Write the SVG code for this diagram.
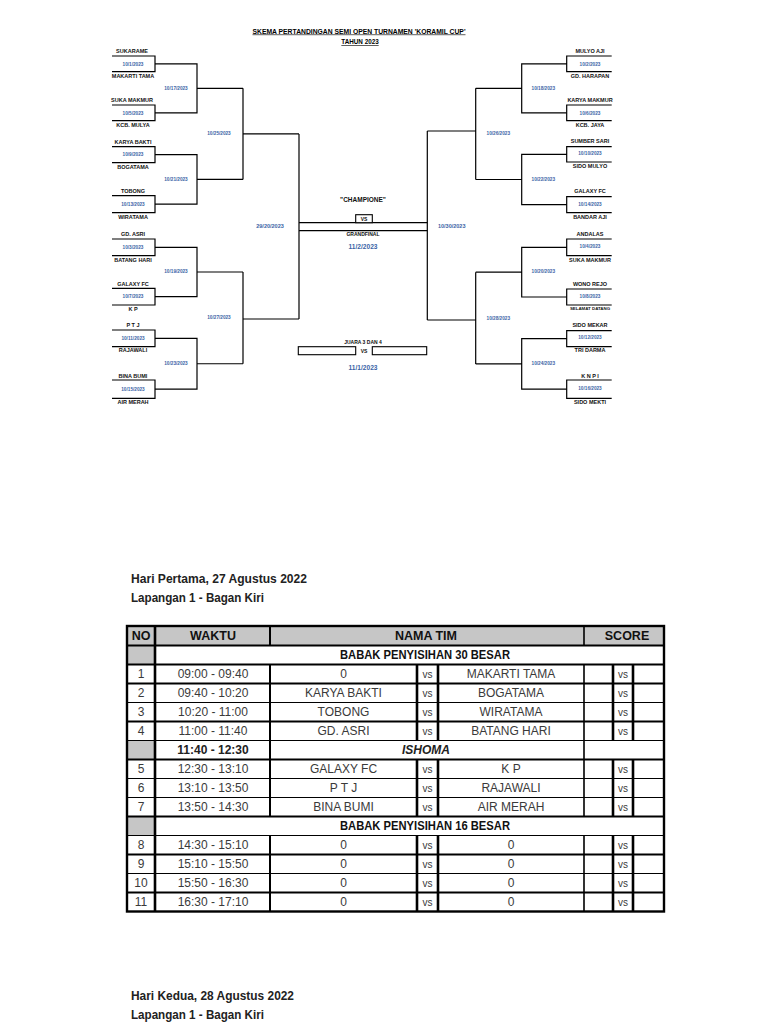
<svg xmlns="http://www.w3.org/2000/svg" width="768" height="1024" viewBox="0 0 768 1024">
<style>
text{font-family:"Liberation Sans",Arial,sans-serif;}
.bg{fill:#ffffff;}
.ln{fill:none;stroke:#000;stroke-width:1.2;}
.tm{font-size:5.5px;font-weight:bold;fill:#111;text-anchor:middle;}
.dt{font-size:4.7px;font-weight:bold;fill:#3b64a6;text-anchor:middle;}
.dt2{font-size:5.5px;font-weight:bold;fill:#3b64a6;text-anchor:middle;}
.ttl{font-size:6.3px;font-weight:bold;fill:#000;text-anchor:middle;text-decoration:underline;}
.h{font-size:13px;font-weight:bold;fill:#222;}
.th{font-size:12.5px;font-weight:bold;fill:#111;text-anchor:middle;}
.td{font-size:12px;fill:#3a3a3a;text-anchor:middle;}
.tb{font-size:12px;font-weight:bold;fill:#222;text-anchor:middle;}
.vs{font-size:10px;fill:#3a3a3a;text-anchor:middle;}
.grey{fill:#c6c6c6;}
.thin{stroke:#000;stroke-width:1.2;}
.thick{stroke:#000;stroke-width:2.2;}
</style>
<rect class="bg" x="0" y="0" width="768" height="1024"/>

<g id="title">
<text class="ttl" x="359" y="33.5" textLength="213" lengthAdjust="spacingAndGlyphs">SKEMA PERTANDINGAN SEMI OPEN TURNAMEN 'KORAMIL CUP'</text>
<text class="ttl" x="360" y="44">TAHUN 2023</text>
</g>

<g id="connectors">
<path class="ln" d="M112,56H155V71.7H112M155,63.85H197V112.85H155M197,88.35H243"/>
<path class="ln" d="M112,105H155V120.7H112"/>
<path class="ln" d="M112,146.7H155V162.7H112M155,154.7H197V204.2H155M197,179.45H243"/>
<path class="ln" d="M112,195.7H155V212.7H112"/>
<path class="ln" d="M112,239H155V255.7H112M155,247.35H197V296.65H155M197,272H243"/>
<path class="ln" d="M112,288.3H155V305H112"/>
<path class="ln" d="M112,330H155V346.7H112M155,338.35H197V389.15H155M197,363.75H243"/>
<path class="ln" d="M112,380H155V398.3H112"/>
<path class="ln" d="M243,88.35V179.45M243,133.9H299M243,272V363.75M243,319H299M299,133.9V319"/>
<path class="ln" d="M611.7,56H566.7V71.7H611.7M566.7,63.85H521.7V112.85H566.7M521.7,88.35H475.7"/>
<path class="ln" d="M611.7,105H566.7V120.7H611.7"/>
<path class="ln" d="M611.7,146.7H566.7V162H611.7M566.7,154.3H521.7V204.7H566.7M521.7,179.5H475.7"/>
<path class="ln" d="M611.7,196.7H566.7V212.7H611.7"/>
<path class="ln" d="M611.7,239H566.7V255.7H611.7M566.7,247.35H521.7V297H566.7M521.7,272.2H475.7"/>
<path class="ln" d="M611.7,289H566.7V305H611.7"/>
<path class="ln" d="M611.7,330.7H566.7V346.7H611.7M566.7,338.7H521.7V389.15H566.7M521.7,363.9H475.7"/>
<path class="ln" d="M611.7,380H566.7V398.3H611.7"/>
<path class="ln" d="M475.7,88.35V179.5M475.7,131H427.3M475.7,272.2V363.9M475.7,320H427.3M427.3,131V320"/>
<path class="ln" d="M299,222.7H427.3M299,230.7H427.3"/>
</g>

<g id="left-teams">
<text class="tm" x="132" y="53">SUKARAME</text>
<text class="dt" x="133" y="65.5">10/1/2023</text>
<text class="tm" x="133" y="78">MAKARTI TAMA</text>
<text class="tm" x="132" y="102">SUKA MAKMUR</text>
<text class="dt" x="133" y="114.5">10/5/2023</text>
<text class="tm" x="133" y="127">KCB. MULYA</text>
<text class="tm" x="133" y="143.7">KARYA BAKTI</text>
<text class="dt" x="133" y="156.4">10/9/2023</text>
<text class="tm" x="133" y="168.5">BOGATAMA</text>
<text class="tm" x="133" y="192.7">TOBONG</text>
<text class="dt" x="133" y="205.9">10/13/2023</text>
<text class="tm" x="133" y="219">WIRATAMA</text>
<text class="tm" x="133" y="236.3">GD. ASRI</text>
<text class="dt" x="133" y="249">10/3/2023</text>
<text class="tm" x="133" y="262.3">BATANG HARI</text>
<text class="tm" x="133" y="286">GALAXY FC</text>
<text class="dt" x="133" y="298.4">10/7/2023</text>
<text class="tm" x="133" y="311">K P</text>
<text class="tm" x="133" y="326.7">P T J</text>
<text class="dt" x="133" y="340">10/11/2023</text>
<text class="tm" x="133" y="352">RAJAWALI</text>
<text class="tm" x="133" y="377.7">BINA BUMI</text>
<text class="dt" x="133" y="390.9">10/15/2023</text>
<text class="tm" x="133" y="404.3">AIR MERAH</text>
</g>

<g id="right-teams">
<text class="tm" x="590" y="52.7">MULYO AJI</text>
<text class="dt" x="590" y="65.5">10/2/2023</text>
<text class="tm" x="590" y="78">GD. HARAPAN</text>
<text class="tm" x="590" y="102">KARYA MAKMUR</text>
<text class="dt" x="590" y="114.5">10/6/2023</text>
<text class="tm" x="590" y="127">KCB. JAYA</text>
<text class="tm" x="590" y="142.7">SUMBER SARI</text>
<text class="dt" x="590" y="155.3">10/10/2023</text>
<text class="tm" x="590" y="168">SIDO MULYO</text>
<text class="tm" x="590" y="192.7">GALAXY FC</text>
<text class="dt" x="590" y="206">10/14/2023</text>
<text class="tm" x="590" y="219.3">BANDAR AJI</text>
<text class="tm" x="590" y="236.3">ANDALAS</text>
<text class="dt" x="590" y="248">10/4/2023</text>
<text class="tm" x="590" y="262">SUKA MAKMUR</text>
<text class="tm" x="590" y="286">WONO REJO</text>
<text class="dt" x="590" y="298">10/8/2023</text>
<text class="tm" x="590" y="310" style="font-size:4.4px">SELAMAT DATANG</text>
<text class="tm" x="590" y="327">SIDO MEKAR</text>
<text class="dt" x="590" y="339">10/12/2023</text>
<text class="tm" x="590" y="352">TRI DARMA</text>
<text class="tm" x="590" y="377.7">K N P I</text>
<text class="dt" x="590" y="390.3">10/16/2023</text>
<text class="tm" x="590" y="404.3">SIDO MEKTI</text>
</g>

<g id="round-dates">
<text class="dt" x="176" y="90">10/17/2023</text>
<text class="dt" x="176" y="181">10/21/2023</text>
<text class="dt" x="176" y="273">10/19/2023</text>
<text class="dt" x="176" y="365">10/23/2023</text>
<text class="dt" x="219" y="135">10/25/2023</text>
<text class="dt" x="219" y="319">10/27/2023</text>
<text class="dt2" x="270" y="228">29/20/2023</text>
<text class="dt" x="543.3" y="90">10/18/2023</text>
<text class="dt" x="543.3" y="181">10/22/2023</text>
<text class="dt" x="543.3" y="273">10/20/2023</text>
<text class="dt" x="543.3" y="365">10/24/2023</text>
<text class="dt" x="498.3" y="135">10/26/2023</text>
<text class="dt" x="498.3" y="319.5">10/28/2023</text>
<text class="dt2" x="451.7" y="228">10/30/2023</text>
</g>

<g id="grandfinal">
<text class="tm" x="363" y="202.3" style="font-size:6.5px">"CHAMPIONE"</text>
<rect x="355.7" y="214.7" width="16.6" height="8" fill="#fff" stroke="#000" stroke-width="1.1"/>
<text class="tm" x="364" y="220.8" style="font-size:5px">VS</text>
<text class="tm" x="363" y="236.3" style="font-size:5px">GRANDFINAL</text>
<text class="dt2" x="363" y="248.7" style="font-size:6.6px">11/2/2023</text>
</g>

<g id="third-place">
<text class="tm" x="363" y="344.2" style="font-size:5px">JUARA 3 DAN 4</text>
<rect x="298.3" y="346.7" width="57.4" height="8" fill="#fff" stroke="#000" stroke-width="1.1"/>
<rect x="372.3" y="346.7" width="54.4" height="8" fill="#fff" stroke="#000" stroke-width="1.1"/>
<text class="tm" x="364" y="352.8" style="font-size:5px">VS</text>
<text class="dt2" x="363" y="369.6" style="font-size:6.6px">11/1/2023</text>
</g>

<g id="heading-day1">
<text class="h" x="131" y="582.5" textLength="176" lengthAdjust="spacingAndGlyphs">Hari Pertama, 27 Agustus 2022</text>
<text class="h" x="131" y="601.5" textLength="133" lengthAdjust="spacingAndGlyphs">Lapangan 1 - Bagan Kiri</text>
</g>

<g id="schedule-table">
<rect class="grey" x="127" y="626" width="537" height="19.5"/>
<rect class="grey" x="127" y="645.5" width="28" height="19"/>
<rect class="grey" x="127" y="740.5" width="28" height="19"/>
<rect class="grey" x="127" y="816.5" width="28" height="19"/>
<g>
<line class="thick" x1="127" y1="645.5" x2="664" y2="645.5"/>
<line class="thick" x1="127" y1="664.5" x2="664" y2="664.5"/>
<line class="thick" x1="127" y1="683.5" x2="664" y2="683.5"/>
<line class="thin" x1="127" y1="702.5" x2="664" y2="702.5"/>
<line class="thick" x1="127" y1="721.5" x2="664" y2="721.5"/>
<line class="thin" x1="127" y1="740.5" x2="664" y2="740.5"/>
<line class="thick" x1="127" y1="759.5" x2="664" y2="759.5"/>
<line class="thin" x1="127" y1="778.5" x2="664" y2="778.5"/>
<line class="thin" x1="127" y1="797.5" x2="664" y2="797.5"/>
<line class="thick" x1="127" y1="816.5" x2="664" y2="816.5"/>
<line class="thin" x1="127" y1="835.5" x2="664" y2="835.5"/>
<line class="thick" x1="127" y1="854.5" x2="664" y2="854.5"/>
<line class="thin" x1="127" y1="873.5" x2="664" y2="873.5"/>
<line class="thick" x1="127" y1="892.5" x2="664" y2="892.5"/>
</g>
<g>
<line x1="155" y1="626" x2="155" y2="911.5" stroke="#000" stroke-width="2.6"/>
<path d="M270,626V645.5M270,664.5V816.5M270,835.5V911.5" stroke="#000" stroke-width="2" fill="none"/>
<path d="M584,626V645.5M584,664.5V816.5M584,835.5V911.5" stroke="#000" stroke-width="1.6" fill="none"/>
<path d="M417,664.5V740.5M417,759.5V816.5M417,835.5V911.5M438,664.5V740.5M438,759.5V816.5M438,835.5V911.5" stroke="#000" stroke-width="2.6" fill="none"/>
<path d="M613,664.5V740.5M613,759.5V816.5M613,835.5V911.5M633,664.5V740.5M633,759.5V816.5M633,835.5V911.5" stroke="#000" stroke-width="2.6" fill="none"/>
</g>
<rect x="127" y="626" width="537" height="285.5" fill="none" stroke="#000" stroke-width="2.4"/>

<text class="th" x="141" y="640.3">NO</text>
<text class="th" x="213" y="640.3">WAKTU</text>
<text class="th" x="426" y="640.3">NAMA TIM</text>
<text class="th" x="627" y="640.3">SCORE</text>

<text class="th" x="425" y="659.3" textLength="170" lengthAdjust="spacingAndGlyphs">BABAK PENYISIHAN 30 BESAR</text>

<g id="row1"><text class="td" x="141" y="678.3">1</text><text class="td" x="213" y="678.3">09:00 - 09:40</text><text class="td" x="343.5" y="678.3">0</text><text class="vs" x="427.5" y="678">vs</text><text class="td" x="511" y="678.3">MAKARTI TAMA</text><text class="vs" x="623" y="678">vs</text></g>
<g id="row2"><text class="td" x="141" y="697.3">2</text><text class="td" x="213" y="697.3">09:40 - 10:20</text><text class="td" x="343.5" y="697.3">KARYA BAKTI</text><text class="vs" x="427.5" y="697">vs</text><text class="td" x="511" y="697.3">BOGATAMA</text><text class="vs" x="623" y="697">vs</text></g>
<g id="row3"><text class="td" x="141" y="716.3">3</text><text class="td" x="213" y="716.3">10:20 - 11:00</text><text class="td" x="343.5" y="716.3">TOBONG</text><text class="vs" x="427.5" y="716">vs</text><text class="td" x="511" y="716.3">WIRATAMA</text><text class="vs" x="623" y="716">vs</text></g>
<g id="row4"><text class="td" x="141" y="735.3">4</text><text class="td" x="213" y="735.3">11:00 - 11:40</text><text class="td" x="343.5" y="735.3">GD. ASRI</text><text class="vs" x="427.5" y="735">vs</text><text class="td" x="511" y="735.3">BATANG HARI</text><text class="vs" x="623" y="735">vs</text></g>
<g id="ishoma"><text class="tb" x="213" y="754.3">11:40 - 12:30</text><text class="tb" x="426" y="754.3" style="font-style:italic">ISHOMA</text></g>
<g id="row5"><text class="td" x="141" y="773.3">5</text><text class="td" x="213" y="773.3">12:30 - 13:10</text><text class="td" x="343.5" y="773.3">GALAXY FC</text><text class="vs" x="427.5" y="773">vs</text><text class="td" x="511" y="773.3">K P</text><text class="vs" x="623" y="773">vs</text></g>
<g id="row6"><text class="td" x="141" y="792.3">6</text><text class="td" x="213" y="792.3">13:10 - 13:50</text><text class="td" x="343.5" y="792.3">P T J</text><text class="vs" x="427.5" y="792">vs</text><text class="td" x="511" y="792.3">RAJAWALI</text><text class="vs" x="623" y="792">vs</text></g>
<g id="row7"><text class="td" x="141" y="811.3">7</text><text class="td" x="213" y="811.3">13:50 - 14:30</text><text class="td" x="343.5" y="811.3">BINA BUMI</text><text class="vs" x="427.5" y="811">vs</text><text class="td" x="511" y="811.3">AIR MERAH</text><text class="vs" x="623" y="811">vs</text></g>

<text class="th" x="425" y="830.3" textLength="170" lengthAdjust="spacingAndGlyphs">BABAK PENYISIHAN 16 BESAR</text>

<g id="row8"><text class="td" x="141" y="849.3">8</text><text class="td" x="213" y="849.3">14:30 - 15:10</text><text class="td" x="343.5" y="849.3">0</text><text class="vs" x="427.5" y="849">vs</text><text class="td" x="511" y="849.3">0</text><text class="vs" x="623" y="849">vs</text></g>
<g id="row9"><text class="td" x="141" y="868.3">9</text><text class="td" x="213" y="868.3">15:10 - 15:50</text><text class="td" x="343.5" y="868.3">0</text><text class="vs" x="427.5" y="868">vs</text><text class="td" x="511" y="868.3">0</text><text class="vs" x="623" y="868">vs</text></g>
<g id="row10"><text class="td" x="141" y="887.3">10</text><text class="td" x="213" y="887.3">15:50 - 16:30</text><text class="td" x="343.5" y="887.3">0</text><text class="vs" x="427.5" y="887">vs</text><text class="td" x="511" y="887.3">0</text><text class="vs" x="623" y="887">vs</text></g>
<g id="row11"><text class="td" x="141" y="906.3">11</text><text class="td" x="213" y="906.3">16:30 - 17:10</text><text class="td" x="343.5" y="906.3">0</text><text class="vs" x="427.5" y="906">vs</text><text class="td" x="511" y="906.3">0</text><text class="vs" x="623" y="906">vs</text></g>
</g>

<g id="heading-day2">
<text class="h" x="131" y="1000" textLength="163" lengthAdjust="spacingAndGlyphs">Hari Kedua, 28 Agustus 2022</text>
<text class="h" x="131" y="1019" textLength="133" lengthAdjust="spacingAndGlyphs">Lapangan 1 - Bagan Kiri</text>
</g>
</svg>
